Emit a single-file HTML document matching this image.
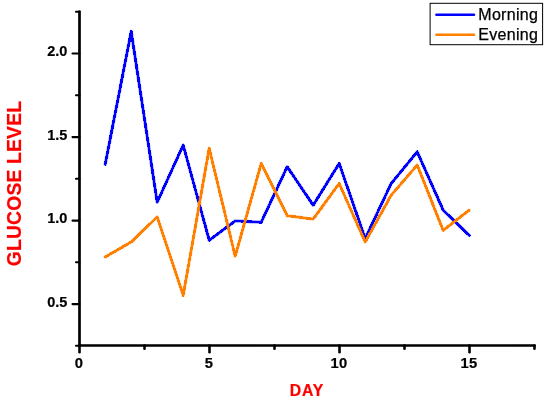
<!DOCTYPE html><html><head><meta charset="utf-8"><title>Glucose Level</title>
<style>html,body{margin:0;padding:0;background:#fff}svg{display:block}text{font-family:"Liberation Sans",Arial,sans-serif}</style></head><body>
<svg width="550" height="401" viewBox="0 0 550 401">
<rect width="550" height="401" fill="#fff"/>
<polyline points="105.2,164.3 131.2,31.5 157.2,202.2 183.2,145.1 209.2,240.3 235.2,220.9 261.2,222.3 287.2,166.8 313.2,205.2 339.2,163.5 365.2,238.6 391.2,183.5 417.2,151.8 443.2,210.2 469.2,235.3" fill="none" stroke="#0000ff" stroke-opacity="0.4" stroke-width="3.4" stroke-linejoin="round" stroke-linecap="round"/>
<polyline points="105.2,164.3 131.2,31.5 157.2,202.2 183.2,145.1 209.2,240.3 235.2,220.9 261.2,222.3 287.2,166.8 313.2,205.2 339.2,163.5 365.2,238.6 391.2,183.5 417.2,151.8 443.2,210.2 469.2,235.3" fill="none" stroke="#0000ff" stroke-width="2.6" stroke-linejoin="round" stroke-linecap="round" shape-rendering="crispEdges"/>
<polyline points="105.2,257.0 131.2,242.0 157.2,216.9 183.2,295.4 209.2,148.4 235.2,256.2 261.2,163.5 287.2,215.7 313.2,219.1 339.2,183.5 365.2,242.0 391.2,195.2 417.2,165.1 443.2,230.3 469.2,210.2" fill="none" stroke="#ff8000" stroke-opacity="0.4" stroke-width="3.4" stroke-linejoin="round" stroke-linecap="round"/>
<polyline points="105.2,257.0 131.2,242.0 157.2,216.9 183.2,295.4 209.2,148.4 235.2,256.2 261.2,163.5 287.2,215.7 313.2,219.1 339.2,183.5 365.2,242.0 391.2,195.2 417.2,165.1 443.2,230.3 469.2,210.2" fill="none" stroke="#ff8000" stroke-width="2.6" stroke-linejoin="round" stroke-linecap="round" shape-rendering="crispEdges"/>
<g stroke="#000" stroke-width="2.7" fill="none" stroke-linecap="round">
<path d="M79.5,11.5V345.5"/>
<path d="M79.5,345.5H534.5"/>
<path stroke-width="2.1" d="M76.0,345.8H79.5"/>
<path stroke-width="2.1" d="M72.5,304.1H79.5"/>
<path stroke-width="2.1" d="M76.0,262.3H79.5"/>
<path stroke-width="2.1" d="M72.5,220.6H79.5"/>
<path stroke-width="2.1" d="M76.0,178.8H79.5"/>
<path stroke-width="2.1" d="M72.5,137.1H79.5"/>
<path stroke-width="2.1" d="M76.0,95.3H79.5"/>
<path stroke-width="2.1" d="M72.5,53.5H79.5"/>
<path stroke-width="2.1" d="M76.0,11.8H79.5"/>
<path stroke-width="2.6" d="M79.5,345.5V352.3"/>
<path stroke-width="2.6" d="M144.5,345.5V348.8"/>
<path stroke-width="2.6" d="M209.5,345.5V352.3"/>
<path stroke-width="2.6" d="M274.5,345.5V348.8"/>
<path stroke-width="2.6" d="M339.5,345.5V352.3"/>
<path stroke-width="2.6" d="M404.5,345.5V348.8"/>
<path stroke-width="2.6" d="M469.5,345.5V352.3"/>
<path stroke-width="2.6" d="M534.5,345.5V348.8"/>
</g>
<g font-weight="bold" font-size="14.6px" fill="#000" stroke="#000" stroke-width="0.2">
<text transform="translate(67.3,306.6) scale(0.96,1)" font-size="15.1px" text-anchor="end">0.5</text>
<text transform="translate(67.3,223.2) scale(0.96,1)" font-size="15.1px" text-anchor="end">1.0</text>
<text transform="translate(67.3,139.7) scale(0.96,1)" font-size="15.1px" text-anchor="end">1.5</text>
<text transform="translate(67.3,56.1) scale(0.96,1)" font-size="15.1px" text-anchor="end">2.0</text>
<text transform="translate(79.1,368.1) scale(0.96,1)" letter-spacing="0.4" font-size="15.4px" text-anchor="middle">0</text>
<text transform="translate(209.1,368.1) scale(0.96,1)" letter-spacing="0.4" font-size="15.4px" text-anchor="middle">5</text>
<text transform="translate(339.1,368.1) scale(0.96,1)" letter-spacing="0.4" font-size="15.4px" text-anchor="middle">10</text>
<text transform="translate(469.1,368.1) scale(0.96,1)" letter-spacing="0.4" font-size="15.4px" text-anchor="middle">15</text>
</g>
<text x="307" y="395.8" text-anchor="middle" font-weight="bold" font-size="15.8px" fill="#ff0000" letter-spacing="0.8" stroke="#ff0000" stroke-width="0.2">DAY</text>
<text transform="translate(20.8,183.5) rotate(-90)" text-anchor="middle" font-weight="bold" font-size="19.3px" letter-spacing="0.2" fill="#ff0000" stroke="#ff0000" stroke-width="0.2">GLUCOSE LEVEL</text>
<rect x="430.1" y="3.3" width="112.5" height="41.4" fill="#fff" stroke="#000" stroke-width="1"/>
<path d="M436.4,14.7H474" stroke="#0000ff" stroke-width="2.5" stroke-linecap="round"/>
<path d="M436.4,34.8H474" stroke="#ff8000" stroke-width="2.5" stroke-linecap="round"/>
<text x="478.3" y="19.7" font-size="16px" letter-spacing="0.3" stroke="#000" stroke-width="0.25" fill="#000">Morning</text>
<text x="478.3" y="39.9" font-size="16px" letter-spacing="0.3" stroke="#000" stroke-width="0.25" fill="#000">Evening</text>
</svg></body></html>
